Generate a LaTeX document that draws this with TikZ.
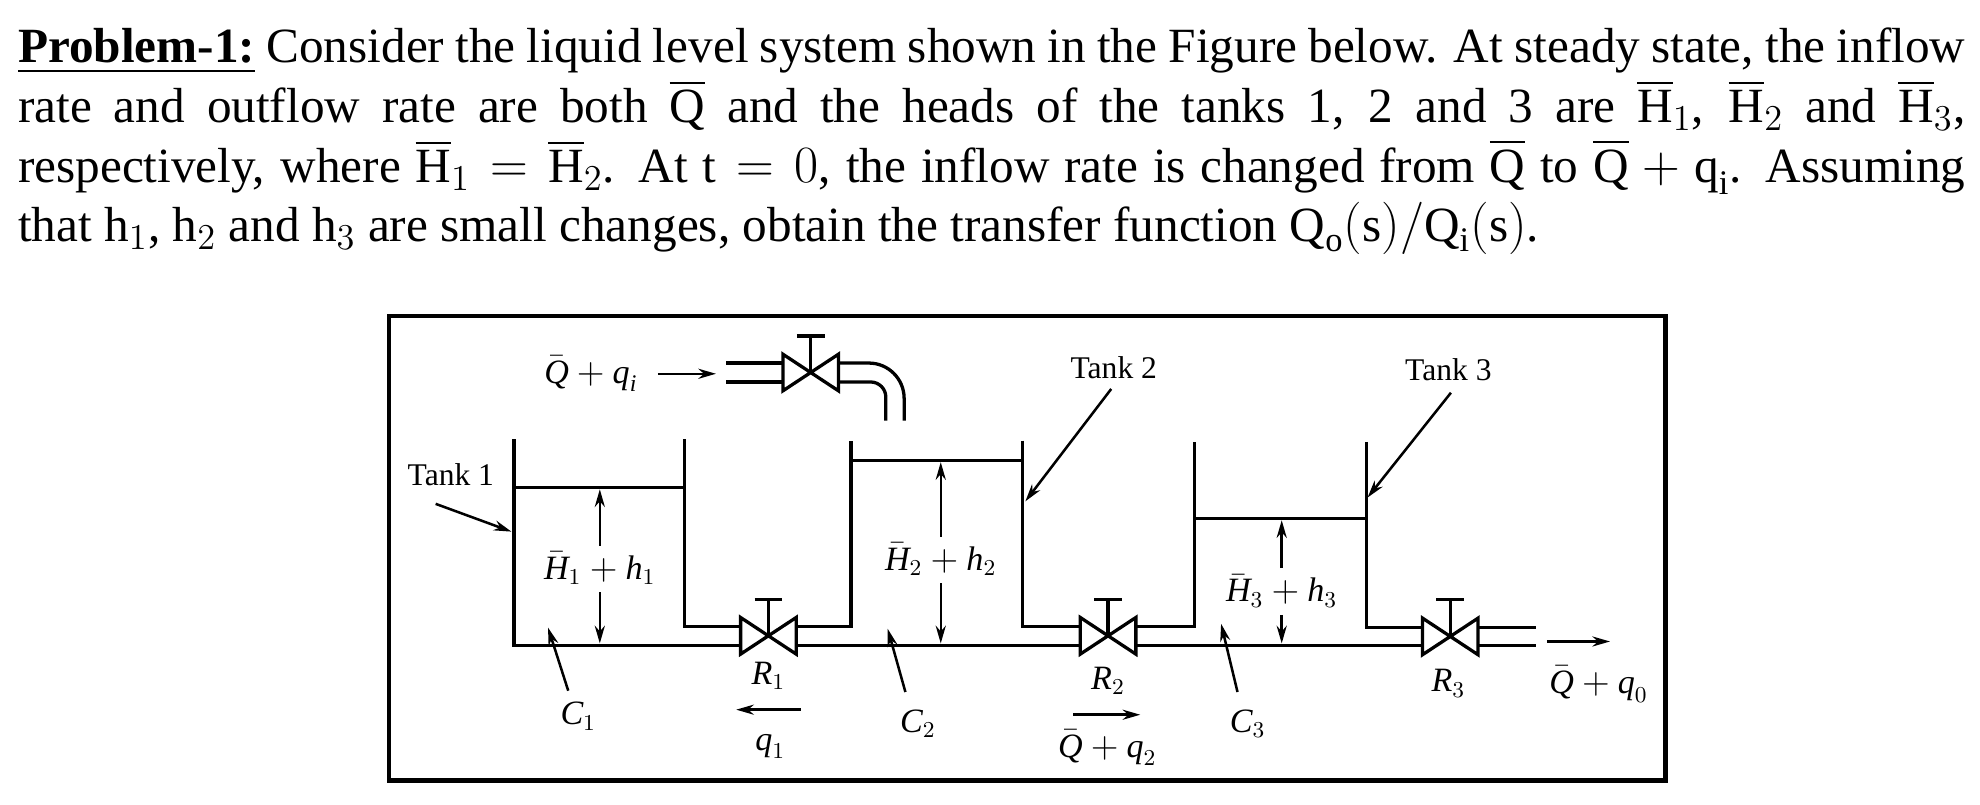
\documentclass[tikz,border=0pt]{standalone}
\usepackage{amsmath}
\usepackage{fontspec}
\setmainfont{Liberation Serif}
\usetikzlibrary{arrows.meta}
\newcommand{\ob}[1]{\overline{\textrm{#1}}}
\newcommand{\ti}[1]{\textit{#1}}
\newcommand{\tb}[1]{\bar{\textit{#1}}}
\begin{document}
\begin{tikzpicture}[x=0.5pt,y=-0.5pt,
  pipe/.style={line width=1.3pt},
  lead/.style={line width=1pt,-{Stealth[length=7pt,width=4pt]}},
  lbl/.style={font=\fontsize{13.5}{15}\selectfont,inner sep=0pt},
  tlbl/.style={font=\fontsize{12.5}{14}\selectfont,inner sep=0pt}]
\useasboundingbox (0,0) rectangle (1568,637);
% problem text
\node[anchor=north west,inner sep=0pt,text width=771pt,align=justify,
  font=\fontsize{19.5}{23.6}\selectfont] (txt) at (14,22)
{\underline{\textbf{Problem-1:}} Consider the liquid level system shown in the Figure below. At steady state, the inflow\linebreak
rate and outflow rate are both $\ob{Q}$ and the heads of the tanks 1, 2 and 3 are $\ob{H}_{1}$, $\ob{H}_{2}$ and $\ob{H}_{3}$,\linebreak
respectively, where $\ob{H}_{1}=\ob{H}_{2}$. At $\textrm{t}=0$, the inflow rate is changed from $\ob{Q}$ to $\ob{Q}+\textrm{q}_{\textrm{i}}$. Assuming\linebreak
that $\textrm{h}_{1}$, $\textrm{h}_{2}$ and $\textrm{h}_{3}$ are small changes, obtain the transfer function $\textrm{Q}_{\textrm{o}}(\textrm{s})/\textrm{Q}_{\textrm{i}}(\textrm{s})$.};
% frame
\draw[line width=1.7pt] (308,250) rectangle (1319,618);
% tanks and pipes
\draw[pipe] (407,348) -- (407,511) -- (586,511);
\draw[pipe] (542,348) -- (542,496) -- (586,496);
\draw[pipe] (407,386) -- (542,386);
\draw[pipe] (631,496) -- (674,496) -- (674,349);
\draw[pipe] (631,511) -- (855,511);
\draw[pipe] (810,349) -- (810,496) -- (855,496);
\draw[pipe] (674,364.5) -- (810,364.5);
\draw[pipe] (899,496) -- (946,496) -- (946,350);
\draw[pipe] (899,511) -- (1126,511);
\draw[pipe] (1082,350) -- (1082,497) -- (1126,497);
\draw[pipe] (946,410.5) -- (1082,410.5);
\draw[pipe] (1171,497) -- (1216,497);
\draw[pipe] (1171,511) -- (1216,511);
% valves
\foreach \vx/\vy in {608.5/503.5,877.5/503.5,1148.5/504,642/295}{
  \draw[pipe] (\vx-22,\vy-14.5) -- (\vx-22,\vy+14.5) -- (\vx+22,\vy-14.5) -- (\vx+22,\vy+14.5) -- cycle;
  \draw[pipe] (\vx,\vy) -- (\vx,\vy-29);
  \draw[pipe] (\vx-11,\vy-29) -- (\vx+11,\vy-29);
}
% inlet pipe
\draw[pipe] (575,287.5) -- (620,287.5);
\draw[pipe] (575,302.5) -- (620,302.5);
\draw[pipe,rounded corners=14pt] (664,287.5) -- (716,287.5) -- (716,333);
\draw[pipe,rounded corners=6pt] (664,302.5) -- (701.5,302.5) -- (701.5,333);
% labels
\node[lbl] (qin) at (468,296) {$\tb{Q}+\ti{q}_{\ti{i}}$};
\draw[lead] (521,296) -- (567,296);
\node[tlbl] (t1) at (357,376) {Tank 1};
\draw[lead] (345,399) -- (405,421);
\node[tlbl] (t2) at (882,291) {Tank 2};
\draw[lead] (880,308) -- (812,397);
\node[tlbl] (t3) at (1147,293) {Tank 3};
\draw[lead] (1149,311) -- (1083,394);
% heights
\node[lbl] (h1) at (475,450) {$\tb{H}_{1}+\ti{h}_{1}$};
\draw[lead] (475,432) -- (475,387.5);
\draw[lead] (475,469) -- (475,509.5);
\node[lbl] (h2) at (745,443) {$\tb{H}_{2}+\ti{h}_{2}$};
\draw[lead] (745,425) -- (745,366);
\draw[lead] (745,462) -- (745,509.5);
\node[lbl] (h3) at (1015,468) {$\tb{H}_{3}+\ti{h}_{3}$};
\draw[lead] (1015,450) -- (1015,412);
\draw[lead] (1015,487) -- (1015,509.5);
% capacitances
\node[lbl] (c1) at (458,567) {$\ti{C}_{1}$};
\draw[lead] (450,547) -- (434,497);
\node[lbl] (c2) at (727,573) {$\ti{C}_{2}$};
\draw[lead] (717,548) -- (703,498);
\node[lbl] (c3) at (988,573) {$\ti{C}_{3}$};
\draw[lead] (980,548) -- (967,494);
% resistances and flows
\node[lbl] (r1) at (608.5,535) {$\ti{R}_{1}$};
\draw[lead] (634,562) -- (583,562);
\node[lbl] (q1) at (610,591) {$\ti{q}_{1}$};
\node[lbl] (r2) at (877.5,539) {$\ti{R}_{2}$};
\draw[lead] (850,566) -- (903,566);
\node[lbl] (q2) at (877,592) {$\tb{Q}+\ti{q}_{2}$};
\node[lbl] (r3) at (1147,541) {$\ti{R}_{3}$};
\draw[lead] (1225,508) -- (1275,508);
\node[lbl] (q0) at (1266,542) {$\tb{Q}+\ti{q}_{0}$};
\end{tikzpicture}
\end{document}
